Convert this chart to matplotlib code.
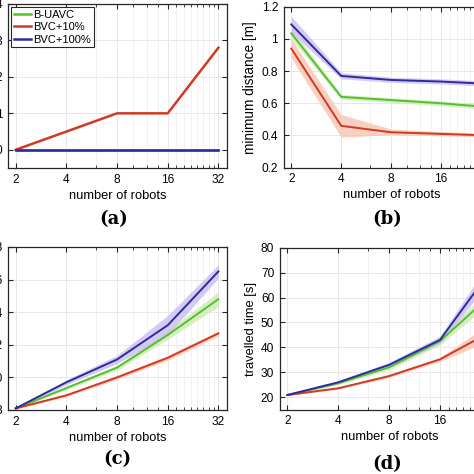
import numpy as np
import matplotlib
matplotlib.use("Agg")
import matplotlib.pyplot as plt
from matplotlib.ticker import FixedLocator, NullFormatter, FixedFormatter

# data
robots = [2, 4, 8, 16, 32]
methods = ["B-UAVC", "BVC+10%", "BVC+100%"]
colors = ["#55c02f", "#d03a22", "#2b2d9c"]
band_colors = ["#cdeab4", "#f7c4b2", "#cbbdf0"]

# (a)
fail_buavc = [0, 0, 0, 0, 0]
fail_bvc10 = [0, 0.5, 1, 1, 2.8]
fail_bvc100 = [0, 0, 0, 0, 0]

# (b) minimum distance [m]: mean, low, high
mind_buavc = [1.035, 0.64, 0.62, 0.60, 0.575]
mind_buavc_lo = [1.00, 0.625, 0.605, 0.585, 0.56]
mind_buavc_hi = [1.065, 0.655, 0.635, 0.615, 0.59]
mind_bvc10 = [0.94, 0.46, 0.42, 0.41, 0.40]
mind_bvc10_lo = [0.88, 0.39, 0.405, 0.398, 0.39]
mind_bvc10_hi = [1.00, 0.53, 0.44, 0.425, 0.41]
mind_bvc100 = [1.09, 0.77, 0.745, 0.735, 0.72]
mind_bvc100_lo = [1.04, 0.752, 0.73, 0.72, 0.705]
mind_bvc100_hi = [1.14, 0.79, 0.762, 0.752, 0.737]

# (c)
dist_buavc = [8.1, 9.35, 10.6, 12.6, 14.8]
dist_buavc_err = [0.05, 0.1, 0.15, 0.25, 0.45]
dist_bvc10 = [8.1, 8.9, 10.0, 11.2, 12.7]
dist_bvc10_err = [0.05, 0.08, 0.12, 0.15, 0.15]
dist_bvc100 = [8.1, 9.7, 11.1, 13.2, 16.5]
dist_bvc100_err = [0.05, 0.15, 0.25, 0.6, 0.4]

# (d) travelled time [s]
time_buavc = [20.9, 25.6, 32.0, 42.5, 61.0]
time_buavc_err = [0.3, 0.5, 1.0, 1.5, 3.0]
time_bvc10 = [20.9, 23.6, 28.5, 35.2, 46.3]
time_bvc10_err = [0.3, 0.4, 0.6, 0.8, 3.5]
time_bvc100 = [20.9, 26.0, 33.0, 43.0, 71.0]
time_bvc100_err = [0.3, 0.5, 1.0, 1.5, 4.0]

plt.rcParams['font.family'] = ['Liberation Sans', 'DejaVu Sans']
plt.rcParams['font.size'] = 8.6

W = 474.0
fig = plt.figure(figsize=(4.74, 4.74), dpi=100)


def make_axes(left, top, right, bottom):
    # pixel box in the reference -> figure fraction
    ax = fig.add_axes([left / W, 1 - bottom / W, (right - left) / W, (bottom - top) / W])
    ax.set_xscale('log', base=2)
    ax.set_xlim(1.8, 36)
    ax.xaxis.set_major_locator(FixedLocator(robots))
    ax.xaxis.set_major_formatter(FixedFormatter([str(r) for r in robots]))
    ax.xaxis.set_minor_locator(FixedLocator([6, 10, 12, 14] + list(range(18, 31, 2))))
    ax.xaxis.set_minor_formatter(NullFormatter())
    ax.tick_params(which='both', direction='in', top=True, right=True,
                   colors='#262626', labelcolor='black', labelsize=8.6, pad=4)
    ax.tick_params(which='major', length=3.5, width=0.8)
    ax.tick_params(which='minor', length=2, width=0.6)
    ax.grid(True, which='major', color='#e8e8e8', lw=0.7)
    ax.grid(True, which='minor', axis='x', color='#efefef', lw=0.6)
    ax.set_axisbelow(True)
    for s in ax.spines.values():
        s.set_color('#262626')
        s.set_linewidth(0.9)
    ax.set_xlabel('number of robots', fontsize=9.3, labelpad=3)
    return ax


# (a)
ax = make_axes(8, 4, 227, 168)
for vals, c, name in zip([fail_buavc, fail_bvc10, fail_bvc100], colors, methods):
    ax.plot(robots, vals, color=c, lw=1.8, label=name)
ax.set_ylim(-0.5, 4)
ax.set_yticks([0, 1, 2, 3, 4])
leg = ax.legend(loc='upper left', fontsize=8.0, handlelength=1.5, handletextpad=0.2,
                borderpad=0.25, labelspacing=0.2, fancybox=False, framealpha=1,
                borderaxespad=0.3)
leg.get_frame().set_edgecolor('#262626')
leg.get_frame().set_linewidth(0.8)

# (b)
ax = make_axes(283.7, 6.7, 499.5, 167.7)
for m, lo, hi, c, bc in zip([mind_buavc, mind_bvc10, mind_bvc100],
                            [mind_buavc_lo, mind_bvc10_lo, mind_bvc100_lo],
                            [mind_buavc_hi, mind_bvc10_hi, mind_bvc100_hi],
                            colors, band_colors):
    ax.fill_between(robots, lo, hi, color=bc, alpha=0.8, lw=0)
for m, c in zip([mind_buavc, mind_bvc10, mind_bvc100], colors):
    ax.plot(robots, m, color=c, lw=1.4)
ax.set_ylim(0.2, 1.2)
ax.set_yticks([0.2, 0.4, 0.6, 0.8, 1.0, 1.2])
ax.set_yticklabels(['0.2', '0.4', '0.6', '0.8', '1', '1.2'])
ax.set_ylabel('minimum distance [m]', fontsize=9.8, labelpad=3)

# (c)
ax = make_axes(8, 247, 227, 410)
for m, e, c, bc in zip([dist_buavc, dist_bvc10, dist_bvc100],
                       [dist_buavc_err, dist_bvc10_err, dist_bvc100_err],
                       colors, band_colors):
    m = np.array(m)
    e = np.array(e)
    ax.fill_between(robots, m - e, m + e, color=bc, alpha=0.8, lw=0)
for m, c in zip([dist_buavc, dist_bvc10, dist_bvc100], colors):
    ax.plot(robots, m, color=c, lw=1.4)
ax.set_ylim(8, 18)
ax.set_yticks([8, 10, 12, 14, 16, 18])

# (d)
ax = make_axes(279.7, 247.7, 499.5, 409.7)
for m, e, c, bc in zip([time_buavc, time_bvc10, time_bvc100],
                       [time_buavc_err, time_bvc10_err, time_bvc100_err],
                       colors, band_colors):
    m = np.array(m)
    e = np.array(e)
    ax.fill_between(robots, m - e, m + e, color=bc, alpha=0.8, lw=0)
for m, c in zip([time_buavc, time_bvc10, time_bvc100], colors):
    ax.plot(robots, m, color=c, lw=1.4)
ax.set_ylim(15, 80)
ax.set_yticks([20, 30, 40, 50, 60, 70, 80])
ax.set_ylabel('travelled time [s]', fontsize=9.3, labelpad=3)

# panel letters
for lab, x, y in [('(a)', 114, 219), ('(b)', 387, 219), ('(c)', 117, 459), ('(d)', 387, 464)]:
    fig.text(x / W, 1 - y / W, lab, ha='center', va='center', fontsize=13,
             fontweight='bold', family=['DejaVu Serif'])

fig.savefig('out.png', dpi=100)
